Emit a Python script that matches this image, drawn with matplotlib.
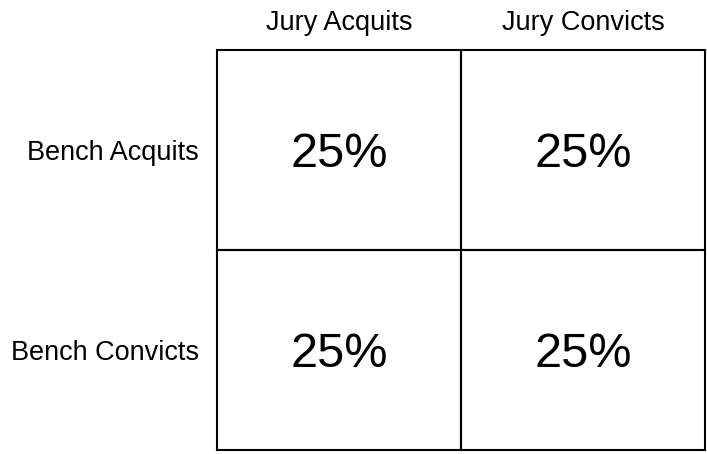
import matplotlib
matplotlib.use("Agg")
import matplotlib.pyplot as plt
from matplotlib.patches import Rectangle
from matplotlib.transforms import offset_copy

plt.rcParams['font.family'] = ['Liberation Sans', 'DejaVu Sans']

col_labels = ["Jury Acquits", "Jury Convicts"]
row_labels = ["Bench Acquits", "Bench Convicts"]
values = [[25, 25],
          [25, 25]]

W, H = 707, 454
fig = plt.figure(figsize=(W / 100, H / 100), dpi=100)
ax = fig.add_axes([217 / W, 1 - 450 / H, (705 - 217) / W, (450 - 50) / H])
ax.set_xlim(0, 2)
ax.set_ylim(2, 0)

tr = offset_copy(ax.transData, fig=fig, x=0, y=-3, units='points')
for i in range(2):
    for j in range(2):
        ax.add_patch(Rectangle((j, i), 1, 1, fill=False, edgecolor='black', linewidth=1.5, clip_on=False))
        ax.text(j + 0.5, i + 0.5, f"{values[i][j]}%", ha='center', va='center',
                fontsize=35, color='black', transform=tr)

for s in ax.spines.values():
    s.set_visible(False)

ax.set_xticks([0.5, 1.5])
ax.set_xticklabels(col_labels, fontsize=19.5)
ax.xaxis.tick_top()
ax.set_yticks([0.5, 1.5])
ax.set_yticklabels(row_labels, fontsize=19.5)
ax.tick_params(axis='both', length=0)
ax.tick_params(axis='x', pad=10)
ax.tick_params(axis='y', pad=13)

fig.savefig("out.png", dpi=100, facecolor='white')
